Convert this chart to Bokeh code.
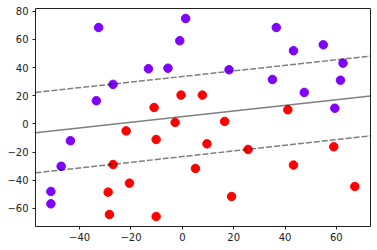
from bokeh.plotting import figure
from bokeh.models import Range1d, FixedTicker
from bokeh.embed import file_html
from bokeh.resources import INLINE

# class 0 (purple)
x0 = [-32.6, 1.3, -1.0, -13.2, -5.6, -27.0, -33.5, 36.6, 43.3, 54.9, 62.6, 18.2, 35.1, 61.6, 47.5, 59.4,
      -43.6, -47.2, -51.2, -51.2]
y0 = [68.5, 74.9, 59.1, 39.2, 39.6, 28.1, 16.5, 68.5, 52.0, 56.2, 43.2, 38.5, 31.6, 31.1, 22.4, 11.2,
      -11.9, -30.0, -47.9, -56.7]
# class 1 (red)
x1 = [-0.5, 7.8, -11.0, -2.8, 16.5, 41.1, -21.9, -10.2, -27.0, -20.6, -28.9, -28.4, -10.2,
      9.6, 5.1, 25.6, 19.2, 43.3, 59.0, 67.2]
y1 = [20.5, 20.5, 11.7, 1.1, 1.8, 10.1, -4.9, -11.0, -28.8, -42.0, -48.4, -64.3, -65.7,
      -14.1, -31.6, -18.1, -51.5, -29.2, -16.2, -44.4]

# decision boundary and margins (endpoints at the plot's x limits)
line_x = [-57.2, 73.3]
decision_y = [-6.2, 19.8]
upper_y = [22.4, 48.2]
lower_y = [-34.7, -8.4]

x_ticks = [-40, -20, 0, 20, 40, 60]
y_ticks = [-60, -40, -20, 0, 20, 40, 60, 80]

def lab(v):
    return str(v).replace("-", "\u2212")

p = figure(width=377, height=250, output_backend="svg", toolbar_location=None,
           x_range=Range1d(-57.2, 73.3), y_range=Range1d(-72.8, 82.0),
           min_border_left=35, min_border_right=7, min_border_top=8, min_border_bottom=24)
p.background_fill_color = "white"
p.border_fill_color = "white"
p.outline_line_color = "#222222"
p.outline_line_width = 1
p.grid.visible = False

p.scatter(x0, y0, size=8.5, fill_color="#8000ff", line_color="#8000ff")
p.scatter(x1, y1, size=8.5, fill_color="#ff0000", line_color="#ff0000")

p.line(line_x, decision_y, line_color="black", line_alpha=0.5, line_width=1.5)
p.line(line_x, upper_y, line_color="black", line_alpha=0.5, line_width=1.5, line_dash="6 2")
p.line(line_x, lower_y, line_color="black", line_alpha=0.5, line_width=1.5, line_dash="6 2")

for ax, ticks in ((p.xaxis, x_ticks), (p.yaxis, y_ticks)):
    ax.ticker = FixedTicker(ticks=ticks)
    ax.major_label_overrides = {t: lab(t) for t in ticks}
    ax.axis_line_color = None
    ax.major_tick_in = 0
    ax.major_tick_out = 3
    ax.minor_tick_line_color = None
    ax.major_tick_line_color = "#222222"
    ax.major_label_text_font = "DejaVu Sans"
    ax.major_label_text_font_size = "10px"
    ax.major_label_text_color = "#222222"
p.xaxis.major_label_standoff = 3
p.yaxis.major_label_standoff = 4

open("out.html", "w").write(file_html(p, INLINE))
